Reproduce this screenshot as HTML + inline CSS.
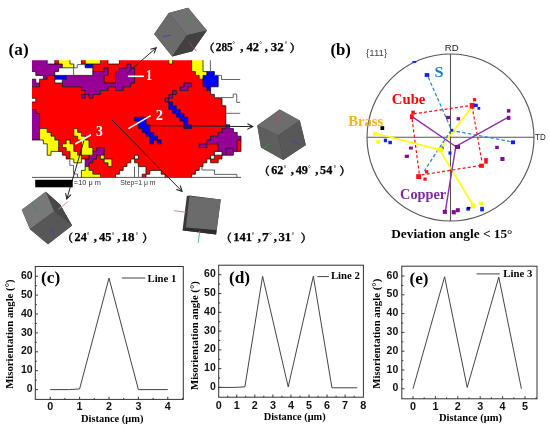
<!DOCTYPE html><html><head><meta charset="utf-8"><style>html,body{margin:0;padding:0;background:#fff;}svg{display:block}</style></head><body>
<svg width="550" height="433" viewBox="0 0 550 433">
<rect width="550" height="433" fill="#fff"/>
<path d="M54.80 60.20h3.80v3.80h-3.80zM81.40 60.20h3.80v3.80h-3.80zM100.40 60.20h7.60v3.80h-7.60zM119.40 60.20h49.40v3.80h-49.40zM172.60 60.20h19.00v3.80h-19.00zM92.80 64.00h34.20v3.80h-34.20zM130.80 64.00h60.80v3.80h-60.80zM92.80 67.80h11.40v3.80h-11.40zM108.00 67.80h11.40v3.80h-11.40zM134.60 67.80h57.00v3.80h-57.00zM108.00 71.60h7.60v3.80h-7.60zM134.60 71.60h60.80v3.80h-60.80zM47.20 75.40h7.60v3.80h-7.60zM104.20 75.40h11.40v3.80h-11.40zM134.60 75.40h64.60v3.80h-64.60zM39.60 79.20h15.20v3.80h-15.20zM104.20 79.20h11.40v3.80h-11.40zM134.60 79.20h68.40v3.80h-68.40zM39.60 83.00h22.80v3.80h-22.80zM130.80 83.00h53.20v3.80h-53.20zM191.60 83.00h11.40v3.80h-11.40zM32.00 86.80h49.40v3.80h-49.40zM108.00 86.80h7.60v3.80h-7.60zM123.20 86.80h57.00v3.80h-57.00zM187.80 86.80h19.00v3.80h-19.00zM32.00 90.60h53.20v3.80h-53.20zM100.40 90.60h72.20v3.80h-72.20zM176.40 90.60h34.20v3.80h-34.20zM32.00 94.40h49.40v3.80h-49.40zM85.20 94.40h3.80v3.80h-3.80zM92.80 94.40h76.00v3.80h-76.00zM172.60 94.40h41.80v3.80h-41.80zM35.80 98.20h129.20v3.80h-129.20zM168.80 98.20h53.20v3.80h-53.20zM32.00 102.00h136.80v3.80h-136.80zM172.60 102.00h49.40v3.80h-49.40zM32.00 105.80h136.80v3.80h-136.80zM176.40 105.80h49.40v3.80h-49.40zM35.80 109.60h136.80v3.80h-136.80zM180.20 109.60h45.60v3.80h-45.60zM39.60 113.40h136.80v3.80h-136.80zM184.00 113.40h41.80v3.80h-41.80zM39.60 117.20h95.00v3.80h-95.00zM146.00 117.20h34.20v3.80h-34.20zM187.80 117.20h38.00v3.80h-38.00zM39.60 121.00h98.80v3.80h-98.80zM146.00 121.00h38.00v3.80h-38.00zM187.80 121.00h38.00v3.80h-38.00zM39.60 124.80h98.80v3.80h-98.80zM149.80 124.80h34.20v3.80h-34.20zM191.60 124.80h34.20v3.80h-34.20zM47.20 128.60h26.60v3.80h-26.60zM77.60 128.60h64.60v3.80h-64.60zM149.80 128.60h72.20v3.80h-72.20zM51.00 132.40h22.80v3.80h-22.80zM81.40 132.40h64.60v3.80h-64.60zM153.60 132.40h64.60v3.80h-64.60zM54.80 136.20h22.80v3.80h-22.80zM85.20 136.20h64.60v3.80h-64.60zM157.40 136.20h53.20v3.80h-53.20zM58.60 140.00h7.60v3.80h-7.60zM70.00 140.00h11.40v3.80h-11.40zM89.00 140.00h60.80v3.80h-60.80zM153.60 140.00h3.80v3.80h-3.80zM161.20 140.00h45.60v3.80h-45.60zM237.20 140.00h3.80v3.80h-3.80zM58.60 143.80h3.80v3.80h-3.80zM73.80 143.80h7.60v3.80h-7.60zM89.00 143.80h110.20v3.80h-110.20zM206.80 143.80h11.40v3.80h-11.40zM237.20 143.80h3.80v3.80h-3.80zM58.60 147.60h7.60v3.80h-7.60zM73.80 147.60h7.60v3.80h-7.60zM92.80 147.60h3.80v3.80h-3.80zM104.20 147.60h114.00v3.80h-114.00zM237.20 147.60h3.80v3.80h-3.80zM62.40 151.40h7.60v3.80h-7.60zM77.60 151.40h3.80v3.80h-3.80zM104.20 151.40h110.20v3.80h-110.20zM66.20 155.20h3.80v3.80h-3.80zM81.40 155.20h7.60v3.80h-7.60zM96.60 155.20h3.80v3.80h-3.80zM104.20 155.20h30.40v3.80h-30.40zM138.40 155.20h72.20v3.80h-72.20zM214.40 155.20h7.60v3.80h-7.60zM92.80 159.00h11.40v3.80h-11.40zM111.80 159.00h19.00v3.80h-19.00zM134.60 159.00h72.20v3.80h-72.20zM210.60 159.00h7.60v3.80h-7.60zM89.00 162.80h19.00v3.80h-19.00zM111.80 162.80h15.20v3.80h-15.20zM138.40 162.80h64.60v3.80h-64.60zM89.00 166.60h34.20v3.80h-34.20zM146.00 166.60h53.20v3.80h-53.20zM92.80 170.40h26.60v3.80h-26.60zM146.00 170.40h3.80v3.80h-3.80zM161.20 170.40h34.20v3.80h-34.20zM100.40 174.20h15.20v3.80h-15.20zM142.20 174.20h3.80v3.80h-3.80zM165.00 174.20h26.60v3.80h-26.60z" fill="#ff0000"/>
<path d="M32.00 60.20h15.20v3.80h-15.20zM32.00 64.00h30.40v3.80h-30.40zM127.00 64.00h3.80v3.80h-3.80zM32.00 67.80h26.60v3.80h-26.60zM104.20 67.80h3.80v3.80h-3.80zM119.40 67.80h15.20v3.80h-15.20zM35.80 71.60h19.00v3.80h-19.00zM92.80 71.60h15.20v3.80h-15.20zM115.60 71.60h19.00v3.80h-19.00zM43.40 75.40h3.80v3.80h-3.80zM66.20 75.40h38.00v3.80h-38.00zM115.60 75.40h19.00v3.80h-19.00zM32.00 79.20h3.80v3.80h-3.80zM62.40 79.20h41.80v3.80h-41.80zM115.60 79.20h19.00v3.80h-19.00zM32.00 83.00h7.60v3.80h-7.60zM62.40 83.00h68.40v3.80h-68.40zM184.00 83.00h7.60v3.80h-7.60zM81.40 86.80h26.60v3.80h-26.60zM115.60 86.80h7.60v3.80h-7.60zM180.20 86.80h7.60v3.80h-7.60zM85.20 90.60h15.20v3.80h-15.20zM172.60 90.60h3.80v3.80h-3.80zM81.40 94.40h3.80v3.80h-3.80zM89.00 94.40h3.80v3.80h-3.80zM168.80 94.40h3.80v3.80h-3.80zM165.00 98.20h3.80v3.80h-3.80zM32.00 109.60h3.80v3.80h-3.80zM32.00 113.40h7.60v3.80h-7.60zM32.00 117.20h7.60v3.80h-7.60zM32.00 121.00h7.60v3.80h-7.60zM32.00 124.80h7.60v3.80h-7.60zM225.80 124.80h3.80v3.80h-3.80zM32.00 128.60h7.60v3.80h-7.60zM222.00 128.60h11.40v3.80h-11.40zM32.00 132.40h7.60v3.80h-7.60zM218.20 132.40h19.00v3.80h-19.00zM32.00 136.20h7.60v3.80h-7.60zM210.60 136.20h30.40v3.80h-30.40zM206.80 140.00h30.40v3.80h-30.40zM199.20 143.80h7.60v3.80h-7.60zM218.20 143.80h19.00v3.80h-19.00zM96.60 147.60h7.60v3.80h-7.60zM218.20 147.60h19.00v3.80h-19.00zM92.80 151.40h11.40v3.80h-11.40zM222.00 151.40h11.40v3.80h-11.40zM89.00 155.20h7.60v3.80h-7.60zM85.20 159.00h7.60v3.80h-7.60zM85.20 162.80h3.80v3.80h-3.80z" fill="#960096"/>
<path d="M58.60 60.20h11.40v3.80h-11.40zM85.20 60.20h15.20v3.80h-15.20zM168.80 60.20h3.80v3.80h-3.80zM191.60 60.20h11.40v3.80h-11.40zM62.40 64.00h11.40v3.80h-11.40zM191.60 64.00h11.40v3.80h-11.40zM191.60 67.80h11.40v3.80h-11.40zM195.40 71.60h11.40v3.80h-11.40zM199.20 75.40h3.80v3.80h-3.80zM39.60 128.60h7.60v3.80h-7.60zM73.80 128.60h3.80v3.80h-3.80zM39.60 132.40h11.40v3.80h-11.40zM73.80 132.40h7.60v3.80h-7.60zM39.60 136.20h15.20v3.80h-15.20zM77.60 136.20h7.60v3.80h-7.60zM43.40 140.00h15.20v3.80h-15.20zM66.20 140.00h3.80v3.80h-3.80zM81.40 140.00h7.60v3.80h-7.60zM47.20 143.80h11.40v3.80h-11.40zM62.40 143.80h11.40v3.80h-11.40zM81.40 143.80h7.60v3.80h-7.60zM47.20 147.60h11.40v3.80h-11.40zM66.20 147.60h7.60v3.80h-7.60zM81.40 147.60h11.40v3.80h-11.40zM47.20 151.40h3.80v3.80h-3.80zM70.00 151.40h7.60v3.80h-7.60zM81.40 151.40h11.40v3.80h-11.40zM70.00 155.20h11.40v3.80h-11.40zM100.40 155.20h3.80v3.80h-3.80zM73.80 159.00h7.60v3.80h-7.60zM104.20 159.00h7.60v3.80h-7.60zM108.00 162.80h3.80v3.80h-3.80zM85.20 166.60h3.80v3.80h-3.80zM81.40 170.40h11.40v3.80h-11.40zM81.40 174.20h19.00v3.80h-19.00z" fill="#ffff00"/>
<path d="M85.20 64.00h7.60v3.80h-7.60zM206.80 71.60h7.60v3.80h-7.60zM54.80 75.40h11.40v3.80h-11.40zM203.00 75.40h15.20v3.80h-15.20zM203.00 79.20h15.20v3.80h-15.20zM203.00 83.00h15.20v3.80h-15.20zM206.80 86.80h3.80v3.80h-3.80zM168.80 102.00h3.80v3.80h-3.80zM168.80 105.80h7.60v3.80h-7.60zM172.60 109.60h7.60v3.80h-7.60zM176.40 113.40h7.60v3.80h-7.60zM134.60 117.20h11.40v3.80h-11.40zM180.20 117.20h7.60v3.80h-7.60zM138.40 121.00h7.60v3.80h-7.60zM184.00 121.00h3.80v3.80h-3.80zM138.40 124.80h11.40v3.80h-11.40zM184.00 124.80h7.60v3.80h-7.60zM142.20 128.60h7.60v3.80h-7.60zM146.00 132.40h7.60v3.80h-7.60zM149.80 136.20h7.60v3.80h-7.60zM149.80 140.00h3.80v3.80h-3.80zM157.40 140.00h3.80v3.80h-3.80z" fill="#0000ff"/>
<path d="M47.20 64.00H62.40M70.00 64.00H73.80M81.40 64.00H100.40M108.00 64.00H119.40M127.00 64.00H130.80M168.80 64.00H172.60M58.60 67.80H73.80M85.20 67.80H92.80M104.20 67.80H108.00M119.40 67.80H127.00M130.80 67.80H134.60M32.00 71.60H35.80M54.80 71.60H58.60M92.80 71.60H104.20M115.60 71.60H119.40M191.60 71.60H195.40M203.00 71.60H214.40M35.80 75.40H43.40M47.20 75.40H92.80M104.20 75.40H108.00M195.40 75.40H199.20M203.00 75.40H206.80M214.40 75.40H218.20M32.00 79.20H35.80M39.60 79.20H47.20M54.80 79.20H66.20M199.20 79.20H203.00M35.80 83.00H39.60M54.80 83.00H62.40M104.20 83.00H115.60M130.80 83.00H134.60M184.00 83.00H191.60M32.00 86.80H39.60M62.40 86.80H81.40M108.00 86.80H115.60M123.20 86.80H130.80M180.20 86.80H184.00M187.80 86.80H191.60M203.00 86.80H206.80M210.60 86.80H218.20M81.40 90.60H85.20M100.40 90.60H108.00M115.60 90.60H123.20M172.60 90.60H176.40M180.20 90.60H187.80M206.80 90.60H210.60M81.40 94.40H89.00M92.80 94.40H100.40M168.80 94.40H176.40M210.60 94.40H214.40M32.00 98.20H35.80M81.40 98.20H85.20M89.00 98.20H92.80M165.00 98.20H172.60M214.40 98.20H222.00M32.00 102.00H35.80M165.00 102.00H172.60M172.60 105.80H176.40M222.00 105.80H225.80M32.00 109.60H35.80M168.80 109.60H172.60M176.40 109.60H180.20M35.80 113.40H39.60M172.60 113.40H176.40M180.20 113.40H184.00M134.60 117.20H146.00M176.40 117.20H180.20M184.00 117.20H187.80M134.60 121.00H138.40M180.20 121.00H184.00M146.00 124.80H149.80M187.80 124.80H191.60M225.80 124.80H229.60M39.60 128.60H47.20M73.80 128.60H77.60M138.40 128.60H142.20M184.00 128.60H191.60M222.00 128.60H225.80M229.60 128.60H233.40M47.20 132.40H51.00M77.60 132.40H81.40M142.20 132.40H146.00M149.80 132.40H153.60M218.20 132.40H222.00M233.40 132.40H237.20M51.00 136.20H54.80M73.80 136.20H77.60M81.40 136.20H85.20M146.00 136.20H149.80M153.60 136.20H157.40M210.60 136.20H218.20M237.20 136.20H241.00M32.00 140.00H43.40M54.80 140.00H58.60M66.20 140.00H70.00M77.60 140.00H81.40M85.20 140.00H89.00M153.60 140.00H161.20M206.80 140.00H210.60M237.20 140.00H241.00M43.40 143.80H47.20M62.40 143.80H66.20M70.00 143.80H73.80M149.80 143.80H153.60M157.40 143.80H161.20M199.20 143.80H218.20M62.40 147.60H66.20M89.00 147.60H92.80M96.60 147.60H104.20M199.20 147.60H206.80M51.00 151.40H62.40M66.20 151.40H70.00M73.80 151.40H77.60M92.80 151.40H96.60M214.40 151.40H222.00M233.40 151.40H241.00M47.20 155.20H51.00M62.40 155.20H66.20M77.60 155.20H92.80M96.60 155.20H104.20M134.60 155.20H138.40M210.60 155.20H233.40M66.20 159.00H73.80M81.40 159.00H89.00M92.80 159.00H96.60M100.40 159.00H111.80M130.80 159.00H138.40M206.80 159.00H214.40M218.20 159.00H222.00M73.80 162.80H81.40M89.00 162.80H92.80M104.20 162.80H108.00M127.00 162.80H130.80M134.60 162.80H138.40M203.00 162.80H206.80M210.60 162.80H218.20M85.20 166.60H89.00M108.00 166.60H111.80M123.20 166.60H127.00M138.40 166.60H146.00M199.20 166.60H203.00M81.40 170.40H85.20M89.00 170.40H92.80M119.40 170.40H123.20M149.80 170.40H161.20M195.40 170.40H199.20M92.80 174.20H100.40M115.60 174.20H119.40M142.20 174.20H149.80M161.20 174.20H165.00M191.60 174.20H195.40M35.80 71.60V75.40M35.80 79.20V83.00M35.80 98.20V102.00M35.80 109.60V113.40M39.60 79.20V86.80M39.60 113.40V140.00M43.40 75.40V79.20M43.40 140.00V143.80M47.20 60.20V64.00M47.20 75.40V79.20M47.20 128.60V132.40M47.20 143.80V155.20M51.00 132.40V136.20M51.00 151.40V155.20M54.80 60.20V64.00M54.80 71.60V83.00M54.80 136.20V140.00M58.60 60.20V64.00M58.60 67.80V71.60M58.60 140.00V151.40M62.40 64.00V67.80M62.40 79.20V86.80M62.40 143.80V147.60M62.40 151.40V155.20M66.20 75.40V79.20M66.20 140.00V143.80M66.20 147.60V151.40M66.20 155.20V159.00M70.00 60.20V64.00M70.00 140.00V143.80M70.00 151.40V159.00M73.80 64.00V67.80M73.80 128.60V136.20M73.80 143.80V151.40M73.80 159.00V162.80M77.60 128.60V132.40M77.60 136.20V140.00M77.60 151.40V155.20M81.40 60.20V64.00M81.40 86.80V90.60M81.40 94.40V98.20M81.40 132.40V136.20M81.40 140.00V162.80M81.40 170.40V178.00M85.20 60.20V67.80M85.20 90.60V98.20M85.20 136.20V140.00M85.20 159.00V170.40M89.00 94.40V98.20M89.00 140.00V147.60M89.00 155.20V159.00M89.00 162.80V170.40M92.80 64.00V75.40M92.80 94.40V98.20M92.80 147.60V155.20M92.80 159.00V162.80M92.80 170.40V174.20M96.60 147.60V151.40M96.60 155.20V159.00M100.40 60.20V64.00M100.40 90.60V94.40M100.40 155.20V159.00M100.40 174.20V178.00M104.20 67.80V71.60M104.20 75.40V83.00M104.20 147.60V162.80M108.00 60.20V64.00M108.00 67.80V75.40M108.00 86.80V90.60M108.00 162.80V166.60M111.80 159.00V166.60M115.60 71.60V83.00M115.60 86.80V90.60M115.60 174.20V178.00M119.40 60.20V64.00M119.40 67.80V71.60M119.40 170.40V174.20M123.20 86.80V90.60M123.20 166.60V170.40M127.00 64.00V67.80M127.00 162.80V166.60M130.80 64.00V67.80M130.80 83.00V86.80M130.80 159.00V162.80M134.60 67.80V83.00M134.60 117.20V121.00M134.60 155.20V162.80M138.40 121.00V128.60M138.40 155.20V159.00M138.40 162.80V166.60M142.20 128.60V132.40M142.20 174.20V178.00M146.00 117.20V124.80M146.00 132.40V136.20M146.00 166.60V178.00M149.80 124.80V132.40M149.80 136.20V143.80M149.80 170.40V174.20M153.60 132.40V136.20M153.60 140.00V143.80M157.40 136.20V143.80M161.20 140.00V143.80M161.20 170.40V174.20M165.00 98.20V102.00M165.00 174.20V178.00M168.80 60.20V64.00M168.80 94.40V109.60M172.60 60.20V64.00M172.60 90.60V98.20M172.60 102.00V105.80M172.60 109.60V113.40M176.40 90.60V94.40M176.40 105.80V109.60M176.40 113.40V117.20M180.20 86.80V90.60M180.20 109.60V113.40M180.20 117.20V121.00M184.00 83.00V86.80M184.00 113.40V117.20M184.00 121.00V128.60M187.80 86.80V90.60M187.80 117.20V124.80M191.60 60.20V71.60M191.60 83.00V86.80M191.60 124.80V128.60M191.60 174.20V178.00M195.40 71.60V75.40M195.40 170.40V174.20M199.20 75.40V79.20M199.20 143.80V147.60M199.20 166.60V170.40M203.00 60.20V71.60M203.00 75.40V86.80M203.00 162.80V166.60M206.80 71.60V75.40M206.80 86.80V90.60M206.80 140.00V147.60M206.80 159.00V162.80M210.60 86.80V94.40M210.60 136.20V140.00M210.60 155.20V162.80M214.40 71.60V75.40M214.40 94.40V98.20M214.40 151.40V159.00M218.20 75.40V86.80M218.20 132.40V136.20M218.20 143.80V151.40M218.20 159.00V162.80M222.00 98.20V105.80M222.00 128.60V132.40M222.00 151.40V159.00M225.80 105.80V128.60M229.60 124.80V128.60M233.40 128.60V132.40M233.40 151.40V155.20M237.20 132.40V136.20M237.20 140.00V151.40M241.00 136.20V151.40" stroke="#000" stroke-opacity="0.85" stroke-width="0.85" fill="none"/>
<path d="M32 177.4H241" stroke="#555" stroke-width="1" fill="none"/>
<path d="M210.4 60.2V71.9M213.9 75.4H221.5V79.5H240.2M213.9 97.6H233.2V94.1H236.7V102.4H240.2M225.6 113.3H240.2M202 166.7V170H214.5V174.4H236.9V177.4M134.5 166.4V177.4M138.6 166.4V177.4M69.8 159.5V165.3H73.5V174H77.5V177.4M73.6 64.2V75.5M73.6 67.8H77.3V64.6H85.5" stroke="#555" stroke-width="0.9" fill="none"/>
<path d="M226 154.2V148.2H233.1V151" stroke="#222" stroke-width="0.8" fill="none"/>
<line x1="127.9" y1="76.3" x2="143.9" y2="76.3" stroke="#fff" stroke-width="1.6"/>
<text x="146.10" y="79.70" font-family="'Liberation Serif','Noto Serif CJK SC',serif" font-size="13.8" font-weight="bold" fill="#fff" textLength="6.18" lengthAdjust="spacingAndGlyphs" >1</text>
<line x1="128.4" y1="128.6" x2="150.7" y2="115.6" stroke="#fff" stroke-width="1.6"/>
<text x="155.88" y="119.80" font-family="'Liberation Serif','Noto Serif CJK SC',serif" font-size="14" font-weight="bold" fill="#fff" textLength="7.23" lengthAdjust="spacingAndGlyphs" >2</text>
<line x1="75.2" y1="144" x2="91" y2="134.8" stroke="#fff" stroke-width="1.6"/>
<text x="96.03" y="136.00" font-family="'Liberation Serif','Noto Serif CJK SC',serif" font-size="14.5" font-weight="bold" fill="#fff" textLength="6.84" lengthAdjust="spacingAndGlyphs" >3</text>
<line x1="126.8" y1="73.5" x2="156.2" y2="47.8" stroke="#222" stroke-width="1"/><path d="M150.36 49.17L156.20 47.80L154.07 53.41" stroke="#222" stroke-width="1.1" fill="none"/>
<line x1="143" y1="125.6" x2="252.7" y2="126.6" stroke="#222" stroke-width="1"/><path d="M247.43 123.73L252.70 126.60L247.38 129.37" stroke="#222" stroke-width="1.1" fill="none"/>
<line x1="84" y1="140.5" x2="66.8" y2="199" stroke="#222" stroke-width="1"/><path d="M71.00 194.71L66.80 199.00L65.59 193.12" stroke="#222" stroke-width="1.1" fill="none"/>
<line x1="111.8" y1="119.8" x2="182" y2="191.3" stroke="#222" stroke-width="1"/><path d="M180.30 185.55L182.00 191.30L176.28 189.49" stroke="#222" stroke-width="1.1" fill="none"/>
<rect x="35.2" y="179.8" width="37.5" height="7.5" fill="#000"/>
<text x="73.87" y="185.40" font-family="'Liberation Sans',sans-serif" font-size="8" font-weight="normal" fill="#333" textLength="26.93" lengthAdjust="spacingAndGlyphs" >=10 μ m</text>
<text x="120.27" y="185.40" font-family="'Liberation Sans',sans-serif" font-size="8" font-weight="normal" fill="#333" textLength="35.29" lengthAdjust="spacingAndGlyphs" >Step=1 μ m</text>
<polygon points="168.7,13.1 188.1,7.8 206.9,30.4 192.3,51.2 172.2,56.4 154.2,33.9" fill="#3c3c3c" />
<polygon points="168.7,13.1 188.1,7.8 206.9,30.4 186.8,35.3" fill="#717171" />
<polygon points="168.7,13.1 186.8,35.3 172.2,56.4 154.2,33.9" fill="#6b6b6b" />
<polygon points="186.8,35.3 206.9,30.4 192.3,51.2 172.2,56.4" fill="#414141" />
<line x1="188.1" y1="21.4" x2="193" y2="14.2" stroke="#2a9a3a" stroke-width="0.9"/>
<line x1="163.2" y1="36.7" x2="170.8" y2="35" stroke="#4040c0" stroke-width="0.9"/>
<line x1="188.8" y1="42.2" x2="196.5" y2="51.2" stroke="#c04050" stroke-width="0.9"/>
<polygon points="279.7,109.5 299.8,120.4 305.8,144.9 283.2,160.1 261.0,147.6 257.3,125.5" fill="#3c3c3c" />
<polygon points="279.7,109.5 299.8,120.4 278.3,135.2 257.3,125.5" fill="#6d6d6d" />
<polygon points="257.3,125.5 278.3,135.2 283.2,160.1 261.0,147.6" fill="#5e5e5e" />
<polygon points="278.3,135.2 299.8,120.4 305.8,144.9 283.2,160.1" fill="#585858" />
<line x1="277" y1="113.5" x2="278.8" y2="122.7" stroke="#c05060" stroke-width="0.9"/>
<line x1="263.1" y1="148.6" x2="270.5" y2="143.1" stroke="#20a040" stroke-width="0.9"/>
<line x1="292.7" y1="140.3" x2="299.1" y2="144.5" stroke="#4040c0" stroke-width="0.9"/>
<polygon points="45.8,191.8 60.1,204.5 72.1,225.6 48.0,244.3 30.0,229.3 21.8,209.8" fill="#3c3c3c" />
<polygon points="45.8,191.8 54.4,211.3 30.0,229.3 21.8,209.8" fill="#787878" />
<polygon points="45.8,191.8 60.1,204.5 72.1,225.6 54.4,211.3" fill="#484848" />
<polygon points="54.4,211.3 72.1,225.6 48.0,244.3 30.0,229.3" fill="#575757" />
<line x1="32.3" y1="205.3" x2="38.3" y2="210.5" stroke="#20a040" stroke-width="0.9"/>
<line x1="58.6" y1="209" x2="68.3" y2="201.5" stroke="#e08090" stroke-width="0.9"/>
<line x1="51.1" y1="227.8" x2="54.1" y2="235.3" stroke="#4040c0" stroke-width="0.9"/>
<polygon points="186.8,196.0 189.4,195.5 220.8,199.4 216.2,234.4 182.5,230.4" fill="#3a3a3a" />
<polygon points="182.5,230.2 185.9,227.6 216.5,230.2 216.0,234.5" fill="#2e2e2e" />
<polygon points="189.4,196.3 220.8,199.6 216.5,230.0 185.9,227.4" fill="#6b6b6b" />
<circle cx="203" cy="213" r="0.6" fill="#7070a0"/>
<line x1="173.9" y1="210.7" x2="186" y2="212.3" stroke="#e07080" stroke-width="0.9"/>
<line x1="199.8" y1="231" x2="198.1" y2="243" stroke="#30c060" stroke-width="0.9"/>
<text x="8.61" y="54.60" font-family="'Liberation Serif','Noto Serif CJK SC',serif" font-size="16.3" font-weight="bold" fill="#000" textLength="20.07" lengthAdjust="spacingAndGlyphs" >(a)</text>
<text x="330.43" y="54.70" font-family="'Liberation Serif','Noto Serif CJK SC',serif" font-size="16.3" font-weight="bold" fill="#000" textLength="20.55" lengthAdjust="spacingAndGlyphs" >(b)</text>
<text x="203.50" y="51.60" font-family="'Noto Serif CJK SC',serif" font-size="11" font-weight="bold" fill="#000" stroke="#000" stroke-width="0.35">（</text>
<text x="215.83" y="50.70" font-family="'Liberation Serif','Noto Serif CJK SC',serif" font-size="12" font-weight="bold" fill="#000" textLength="16.94" lengthAdjust="spacingAndGlyphs" stroke="#000" stroke-width="0.25">285</text>
<text x="232.20" y="47.40" font-family="'Liberation Sans',sans-serif" font-size="7" font-weight="normal" fill="#000" >°</text>
<text x="240.25" y="50.70" font-family="'Liberation Serif','Noto Serif CJK SC',serif" font-size="12.5" font-weight="bold" fill="#000" stroke="#000" stroke-width="0.3">,</text>
<text x="246.54" y="50.70" font-family="'Liberation Serif','Noto Serif CJK SC',serif" font-size="12" font-weight="bold" fill="#000" textLength="12.59" lengthAdjust="spacingAndGlyphs" stroke="#000" stroke-width="0.25">42</text>
<text x="259.20" y="47.40" font-family="'Liberation Sans',sans-serif" font-size="7" font-weight="normal" fill="#000" >°</text>
<text x="264.75" y="50.70" font-family="'Liberation Serif','Noto Serif CJK SC',serif" font-size="12.5" font-weight="bold" fill="#000" stroke="#000" stroke-width="0.3">,</text>
<text x="270.86" y="50.70" font-family="'Liberation Serif','Noto Serif CJK SC',serif" font-size="12" font-weight="bold" fill="#000" textLength="12.87" lengthAdjust="spacingAndGlyphs" stroke="#000" stroke-width="0.25">32</text>
<text x="284.40" y="47.40" font-family="'Liberation Sans',sans-serif" font-size="7" font-weight="normal" fill="#000" >°</text>
<text x="289.75" y="51.60" font-family="'Noto Serif CJK SC',serif" font-size="11" font-weight="bold" fill="#000" stroke="#000" stroke-width="0.35">）</text>
<text x="258.70" y="175.30" font-family="'Noto Serif CJK SC',serif" font-size="11" font-weight="bold" fill="#000" stroke="#000" stroke-width="0.35">（</text>
<text x="271.30" y="174.40" font-family="'Liberation Serif','Noto Serif CJK SC',serif" font-size="12" font-weight="bold" fill="#000" textLength="12.11" lengthAdjust="spacingAndGlyphs" stroke="#000" stroke-width="0.25">62</text>
<text x="283.50" y="171.10" font-family="'Liberation Sans',sans-serif" font-size="7" font-weight="normal" fill="#000" >°</text>
<text x="290.85" y="174.40" font-family="'Liberation Serif','Noto Serif CJK SC',serif" font-size="12.5" font-weight="bold" fill="#000" stroke="#000" stroke-width="0.3">,</text>
<text x="295.74" y="174.40" font-family="'Liberation Serif','Noto Serif CJK SC',serif" font-size="12" font-weight="bold" fill="#000" textLength="12.27" lengthAdjust="spacingAndGlyphs" stroke="#000" stroke-width="0.25">49</text>
<text x="308.10" y="171.10" font-family="'Liberation Sans',sans-serif" font-size="7" font-weight="normal" fill="#000" >°</text>
<text x="315.35" y="174.40" font-family="'Liberation Serif','Noto Serif CJK SC',serif" font-size="12.5" font-weight="bold" fill="#000" stroke="#000" stroke-width="0.3">,</text>
<text x="320.09" y="174.40" font-family="'Liberation Serif','Noto Serif CJK SC',serif" font-size="12" font-weight="bold" fill="#000" textLength="12.16" lengthAdjust="spacingAndGlyphs" stroke="#000" stroke-width="0.25">54</text>
<text x="333.40" y="171.10" font-family="'Liberation Sans',sans-serif" font-size="7" font-weight="normal" fill="#000" >°</text>
<text x="339.45" y="175.30" font-family="'Noto Serif CJK SC',serif" font-size="11" font-weight="bold" fill="#000" stroke="#000" stroke-width="0.35">）</text>
<text x="61.90" y="241.70" font-family="'Noto Serif CJK SC',serif" font-size="11" font-weight="bold" fill="#000" stroke="#000" stroke-width="0.35">（</text>
<text x="74.59" y="240.80" font-family="'Liberation Serif','Noto Serif CJK SC',serif" font-size="12" font-weight="bold" fill="#000" textLength="12.16" lengthAdjust="spacingAndGlyphs" stroke="#000" stroke-width="0.25">24</text>
<text x="86.70" y="237.50" font-family="'Liberation Sans',sans-serif" font-size="7" font-weight="normal" fill="#000" >°</text>
<text x="93.65" y="240.80" font-family="'Liberation Serif','Noto Serif CJK SC',serif" font-size="12.5" font-weight="bold" fill="#000" stroke="#000" stroke-width="0.3">,</text>
<text x="99.04" y="240.80" font-family="'Liberation Serif','Noto Serif CJK SC',serif" font-size="12" font-weight="bold" fill="#000" textLength="12.59" lengthAdjust="spacingAndGlyphs" stroke="#000" stroke-width="0.25">45</text>
<text x="111.70" y="237.50" font-family="'Liberation Sans',sans-serif" font-size="7" font-weight="normal" fill="#000" >°</text>
<text x="117.35" y="240.80" font-family="'Liberation Serif','Noto Serif CJK SC',serif" font-size="12.5" font-weight="bold" fill="#000" stroke="#000" stroke-width="0.3">,</text>
<text x="121.51" y="240.80" font-family="'Liberation Serif','Noto Serif CJK SC',serif" font-size="12" font-weight="bold" fill="#000" textLength="13.03" lengthAdjust="spacingAndGlyphs" stroke="#000" stroke-width="0.25">18</text>
<text x="135.40" y="237.50" font-family="'Liberation Sans',sans-serif" font-size="7" font-weight="normal" fill="#000" >°</text>
<text x="142.25" y="241.70" font-family="'Noto Serif CJK SC',serif" font-size="11" font-weight="bold" fill="#000" stroke="#000" stroke-width="0.35">）</text>
<text x="220.70" y="241.70" font-family="'Noto Serif CJK SC',serif" font-size="11" font-weight="bold" fill="#000" stroke="#000" stroke-width="0.35">（</text>
<text x="233.26" y="240.80" font-family="'Liberation Serif','Noto Serif CJK SC',serif" font-size="12" font-weight="bold" fill="#000" textLength="18.76" lengthAdjust="spacingAndGlyphs" stroke="#000" stroke-width="0.25">141</text>
<text x="251.60" y="237.50" font-family="'Liberation Sans',sans-serif" font-size="7" font-weight="normal" fill="#000" >°</text>
<text x="257.75" y="240.80" font-family="'Liberation Serif','Noto Serif CJK SC',serif" font-size="12.5" font-weight="bold" fill="#000" stroke="#000" stroke-width="0.3">,</text>
<text x="262.04" y="240.80" font-family="'Liberation Serif','Noto Serif CJK SC',serif" font-size="12" font-weight="bold" fill="#000" textLength="6.84" lengthAdjust="spacingAndGlyphs" stroke="#000" stroke-width="0.25">7</text>
<text x="268.90" y="237.50" font-family="'Liberation Sans',sans-serif" font-size="7" font-weight="normal" fill="#000" >°</text>
<text x="273.75" y="240.80" font-family="'Liberation Serif','Noto Serif CJK SC',serif" font-size="12.5" font-weight="bold" fill="#000" stroke="#000" stroke-width="0.3">,</text>
<text x="278.47" y="240.80" font-family="'Liberation Serif','Noto Serif CJK SC',serif" font-size="12" font-weight="bold" fill="#000" textLength="12.76" lengthAdjust="spacingAndGlyphs" stroke="#000" stroke-width="0.25">31</text>
<text x="291.40" y="237.50" font-family="'Liberation Sans',sans-serif" font-size="7" font-weight="normal" fill="#000" >°</text>
<text x="300.65" y="241.70" font-family="'Noto Serif CJK SC',serif" font-size="11" font-weight="bold" fill="#000" stroke="#000" stroke-width="0.35">）</text>
<circle cx="450.5" cy="137.5" r="83.5" fill="none" stroke="#555" stroke-width="1.1"/>
<path d="M450.5 54.0V221.0M367.0 137.3H534.0" stroke="#555" stroke-width="1.1" fill="none"/>
<text x="444.84" y="51.40" font-family="'Liberation Sans',sans-serif" font-size="9.5" font-weight="normal" fill="#222" textLength="13.95" lengthAdjust="spacingAndGlyphs" >RD</text>
<text x="535.09" y="140.00" font-family="'Liberation Sans',sans-serif" font-size="9.5" font-weight="normal" fill="#222" textLength="10.67" lengthAdjust="spacingAndGlyphs" >TD</text>
<text x="366.05" y="56.40" font-family="'Liberation Sans',sans-serif" font-size="9.5" font-weight="normal" fill="#444" textLength="21.20" lengthAdjust="spacingAndGlyphs" >{111}</text>
<path d="M413.7 113.9L472 105.4M472.1 106.2L482 162M481 165.4L421 175M412.1 119.1L419.4 175" stroke="#ff1010" stroke-width="1.2" stroke-dasharray="3 2.2" fill="none"/>
<path d="M428.3 77.3L451 128.8M451 130.4L511.7 141.7M451 130.4L424.2 171" stroke="#2080e0" stroke-width="1.2" stroke-dasharray="3.5 2.2" fill="none"/>
<path d="M375 133.2L439.6 149.8M472.1 106.2L439.6 149.8L473 205" stroke="#ffff00" stroke-width="1.5" fill="none"/>
<path d="M412.1 116.7L455.8 146.5M507 117.8L455.8 146.5L445.3 211.4" stroke="#8a30b0" stroke-width="1.4" fill="none"/>
<rect x="411.3" y="110.7" width="3.6" height="3.5" fill="#ff1010"/>
<rect x="410" y="114.2" width="3.7" height="4.9" fill="#ff1010"/>
<rect x="472.9" y="98.1" width="3.3" height="3.2" fill="#ff1010"/>
<rect x="469.7" y="102.9" width="4.8" height="5.7" fill="#ff1010"/>
<rect x="484.2" y="158.1" width="3.6" height="5.6" fill="#ff1010"/>
<rect x="479.1" y="163.7" width="4.8" height="4.1" fill="#ff1010"/>
<rect x="416.2" y="174.2" width="4.8" height="4.9" fill="#ff1010"/>
<rect x="425" y="170.2" width="3.3" height="3.2" fill="#ff1010"/>
<rect x="423.4" y="177.5" width="3.3" height="3.2" fill="#ff1010"/>
<rect x="424.7" y="73.1" width="4.6" height="3.8" fill="#0a20ff"/>
<rect x="412.4" y="61.1" width="3.8" height="1.8" fill="#0a20ff"/>
<rect x="451" y="128.8" width="2.3" height="2.9" fill="#0a20ff"/>
<rect x="473.7" y="103.7" width="4.1" height="3.3" fill="#0a20ff"/>
<rect x="477.5" y="107" width="2.7" height="2.7" fill="#0a20ff"/>
<rect x="510.9" y="140.4" width="4.1" height="3.8" fill="#0a20ff"/>
<rect x="441.2" y="146.6" width="2.4" height="2.9" fill="#0a20ff"/>
<rect x="448.5" y="151.4" width="2.9" height="3.3" fill="#0a20ff"/>
<rect x="383.8" y="138.7" width="3.2" height="3.5" fill="#0a20ff"/>
<rect x="388.4" y="140.8" width="3.5" height="3.4" fill="#0a20ff"/>
<rect x="466.3" y="207.4" width="3.7" height="3.2" fill="#0a20ff"/>
<rect x="480.2" y="206.9" width="3.7" height="4.5" fill="#0a20ff"/>
<rect x="373.2" y="132.2" width="3.4" height="3.7" fill="#ffff00"/>
<rect x="376.4" y="140.1" width="3.7" height="3.5" fill="#ffff00"/>
<rect x="437.2" y="147.4" width="5.6" height="4.8" fill="#ffff00"/>
<rect x="471" y="203.3" width="4.4" height="4.9" fill="#ffff00"/>
<rect x="479.1" y="201.7" width="3.9" height="3.3" fill="#ffff00"/>
<rect x="380.5" y="126.2" width="3.7" height="3.8" fill="#000"/>
<rect x="467" y="206.9" width="3.5" height="1.7" fill="#000"/>
<rect x="446" y="115.9" width="4.0" height="3.2" fill="#7e0e8e"/>
<rect x="456.6" y="117.2" width="3.5" height="3.2" fill="#7e0e8e"/>
<rect x="455" y="145" width="5.0" height="4.0" fill="#7e0e8e"/>
<rect x="408.9" y="146.6" width="4.0" height="2.9" fill="#7e0e8e"/>
<rect x="404.8" y="154.7" width="4.1" height="3.2" fill="#7e0e8e"/>
<rect x="506.9" y="109.1" width="3.5" height="3.5" fill="#7e0e8e"/>
<rect x="506.9" y="115.9" width="3.5" height="4.0" fill="#7e0e8e"/>
<rect x="495.2" y="145.8" width="3.6" height="3.2" fill="#7e0e8e"/>
<rect x="500.4" y="157" width="4.1" height="4.0" fill="#7e0e8e"/>
<rect x="442.8" y="209.8" width="4.1" height="4.1" fill="#7e0e8e"/>
<rect x="451.7" y="210.1" width="4.1" height="4.2" fill="#7e0e8e"/>
<rect x="455.8" y="208.2" width="4.0" height="4.0" fill="#7e0e8e"/>
<text x="434.49" y="77.05" font-family="'Liberation Serif','Noto Serif CJK SC',serif" font-size="15" font-weight="bold" fill="#1a78d0" textLength="9.06" lengthAdjust="spacingAndGlyphs" >S</text>
<text x="391.84" y="104.00" font-family="'Liberation Serif','Noto Serif CJK SC',serif" font-size="14.5" font-weight="bold" fill="#ff0000" textLength="33.56" lengthAdjust="spacingAndGlyphs" >Cube</text>
<text x="348.15" y="126.30" font-family="'Liberation Serif','Noto Serif CJK SC',serif" font-size="14.5" font-weight="bold" fill="#f5b41a" textLength="35.17" lengthAdjust="spacingAndGlyphs" >Brass</text>
<text x="400.06" y="199.30" font-family="'Liberation Serif','Noto Serif CJK SC',serif" font-size="14.5" font-weight="bold" fill="#7a2aa0" textLength="46.17" lengthAdjust="spacingAndGlyphs" >Copper</text>
<text x="391.25" y="237.90" font-family="'Liberation Serif','Noto Serif CJK SC',serif" font-size="13.2" font-weight="bold" fill="#000" textLength="121.18" lengthAdjust="spacingAndGlyphs" >Deviation angle &lt; 15°</text>
<rect x="35.3" y="266.5" width="148.00" height="132.90" fill="none" stroke="#333" stroke-width="1"/>
<path d="M35.3 389.60h2.6M35.3 380.15h1.5M35.3 370.70h2.6M35.3 361.25h1.5M35.3 351.80h2.6M35.3 342.35h1.5M35.3 332.90h2.6M35.3 323.45h1.5M35.3 314.00h2.6M35.3 304.55h1.5M35.3 295.10h2.6M35.3 285.65h1.5M35.3 276.20h2.6M50.20 399.4v-2.6M64.90 399.4v-1.5M79.60 399.4v-2.6M94.30 399.4v-1.5M109.00 399.4v-2.6M123.70 399.4v-1.5M138.40 399.4v-2.6M153.10 399.4v-1.5M167.80 399.4v-2.6M182.50 399.4v-1.5" stroke="#333" stroke-width="1" fill="none"/>
<text transform="translate(32.6,392.20) scale(1.05,1)" font-family="'Liberation Sans',sans-serif" font-size="10" font-weight="bold" fill="#111" text-anchor="end">0</text>
<text transform="translate(32.6,373.30) scale(1.05,1)" font-family="'Liberation Sans',sans-serif" font-size="10" font-weight="bold" fill="#111" text-anchor="end">10</text>
<text transform="translate(32.6,354.40) scale(1.05,1)" font-family="'Liberation Sans',sans-serif" font-size="10" font-weight="bold" fill="#111" text-anchor="end">20</text>
<text transform="translate(32.6,335.50) scale(1.05,1)" font-family="'Liberation Sans',sans-serif" font-size="10" font-weight="bold" fill="#111" text-anchor="end">30</text>
<text transform="translate(32.6,316.60) scale(1.05,1)" font-family="'Liberation Sans',sans-serif" font-size="10" font-weight="bold" fill="#111" text-anchor="end">40</text>
<text transform="translate(32.6,297.70) scale(1.05,1)" font-family="'Liberation Sans',sans-serif" font-size="10" font-weight="bold" fill="#111" text-anchor="end">50</text>
<text transform="translate(32.6,278.80) scale(1.05,1)" font-family="'Liberation Sans',sans-serif" font-size="10" font-weight="bold" fill="#111" text-anchor="end">60</text>
<text transform="translate(50.20,410.4) scale(1.08,1)" font-family="'Liberation Sans',sans-serif" font-size="10" font-weight="bold" fill="#111" text-anchor="middle">0</text>
<text transform="translate(79.60,410.4) scale(1.08,1)" font-family="'Liberation Sans',sans-serif" font-size="10" font-weight="bold" fill="#111" text-anchor="middle">1</text>
<text transform="translate(109.00,410.4) scale(1.08,1)" font-family="'Liberation Sans',sans-serif" font-size="10" font-weight="bold" fill="#111" text-anchor="middle">2</text>
<text transform="translate(138.40,410.4) scale(1.08,1)" font-family="'Liberation Sans',sans-serif" font-size="10" font-weight="bold" fill="#111" text-anchor="middle">3</text>
<text transform="translate(167.80,410.4) scale(1.08,1)" font-family="'Liberation Sans',sans-serif" font-size="10" font-weight="bold" fill="#111" text-anchor="middle">4</text>
<polyline points="50.20,389.60 69.31,389.60 79.60,388.94 109.00,278.09 138.40,389.60 167.80,389.60" fill="none" stroke="#3a3a3a" stroke-width="0.95" stroke-linejoin="round"/>
<text x="41.00" y="283.45" font-family="'Liberation Serif','Noto Serif CJK SC',serif" font-size="16.3" font-weight="bold" fill="#000" textLength="19.17" lengthAdjust="spacingAndGlyphs" >(c)</text>
<line x1="121.9" y1="278" x2="145.4" y2="278" stroke="#3a3a3a" stroke-width="0.95"/>
<text x="147.45" y="281.90" font-family="'Liberation Serif','Noto Serif CJK SC',serif" font-size="10.8" font-weight="bold" fill="#000" textLength="29.06" lengthAdjust="spacingAndGlyphs" >Line 1</text>
<text x="80.96" y="421.80" font-family="'Liberation Serif','Noto Serif CJK SC',serif" font-size="11" font-weight="bold" fill="#000" textLength="62.47" lengthAdjust="spacingAndGlyphs" >Distance (μm)</text>
<text transform="translate(13.30,388.60) rotate(-90)" x="-0.24" y="0" font-family="'Liberation Serif','Noto Serif CJK SC',serif" font-size="11.3" font-weight="bold" fill="#000" textLength="109.38" lengthAdjust="spacingAndGlyphs">Misorientation angle (°)</text>
<rect x="218.7" y="265.2" width="144.70" height="132.00" fill="none" stroke="#333" stroke-width="1"/>
<path d="M218.7 387.40h2.6M218.7 378.01h1.5M218.7 368.63h2.6M218.7 359.25h1.5M218.7 349.86h2.6M218.7 340.47h1.5M218.7 331.09h2.6M218.7 321.70h1.5M218.7 312.32h2.6M218.7 302.93h1.5M218.7 293.55h2.6M218.7 284.16h1.5M218.7 274.78h2.6M227.73 397.2v-1.5M236.76 397.2v-2.6M245.79 397.2v-1.5M254.82 397.2v-2.6M263.85 397.2v-1.5M272.88 397.2v-2.6M281.91 397.2v-1.5M290.94 397.2v-2.6M299.97 397.2v-1.5M309.00 397.2v-2.6M318.03 397.2v-1.5M327.06 397.2v-2.6M336.09 397.2v-1.5M345.12 397.2v-2.6M354.15 397.2v-1.5" stroke="#333" stroke-width="1" fill="none"/>
<text transform="translate(215.8,390.00) scale(1.05,1)" font-family="'Liberation Sans',sans-serif" font-size="10" font-weight="bold" fill="#111" text-anchor="end">0</text>
<text transform="translate(215.8,371.23) scale(1.05,1)" font-family="'Liberation Sans',sans-serif" font-size="10" font-weight="bold" fill="#111" text-anchor="end">10</text>
<text transform="translate(215.8,352.46) scale(1.05,1)" font-family="'Liberation Sans',sans-serif" font-size="10" font-weight="bold" fill="#111" text-anchor="end">20</text>
<text transform="translate(215.8,333.69) scale(1.05,1)" font-family="'Liberation Sans',sans-serif" font-size="10" font-weight="bold" fill="#111" text-anchor="end">30</text>
<text transform="translate(215.8,314.92) scale(1.05,1)" font-family="'Liberation Sans',sans-serif" font-size="10" font-weight="bold" fill="#111" text-anchor="end">40</text>
<text transform="translate(215.8,296.15) scale(1.05,1)" font-family="'Liberation Sans',sans-serif" font-size="10" font-weight="bold" fill="#111" text-anchor="end">50</text>
<text transform="translate(215.8,277.38) scale(1.05,1)" font-family="'Liberation Sans',sans-serif" font-size="10" font-weight="bold" fill="#111" text-anchor="end">60</text>
<text transform="translate(218.70,408.6) scale(1.08,1)" font-family="'Liberation Sans',sans-serif" font-size="10" font-weight="bold" fill="#111" text-anchor="middle">0</text>
<text transform="translate(236.76,408.6) scale(1.08,1)" font-family="'Liberation Sans',sans-serif" font-size="10" font-weight="bold" fill="#111" text-anchor="middle">1</text>
<text transform="translate(254.82,408.6) scale(1.08,1)" font-family="'Liberation Sans',sans-serif" font-size="10" font-weight="bold" fill="#111" text-anchor="middle">2</text>
<text transform="translate(272.88,408.6) scale(1.08,1)" font-family="'Liberation Sans',sans-serif" font-size="10" font-weight="bold" fill="#111" text-anchor="middle">3</text>
<text transform="translate(290.94,408.6) scale(1.08,1)" font-family="'Liberation Sans',sans-serif" font-size="10" font-weight="bold" fill="#111" text-anchor="middle">4</text>
<text transform="translate(309.00,408.6) scale(1.08,1)" font-family="'Liberation Sans',sans-serif" font-size="10" font-weight="bold" fill="#111" text-anchor="middle">5</text>
<text transform="translate(327.06,408.6) scale(1.08,1)" font-family="'Liberation Sans',sans-serif" font-size="10" font-weight="bold" fill="#111" text-anchor="middle">6</text>
<text transform="translate(345.12,408.6) scale(1.08,1)" font-family="'Liberation Sans',sans-serif" font-size="10" font-weight="bold" fill="#111" text-anchor="middle">7</text>
<text transform="translate(363.18,408.6) scale(1.08,1)" font-family="'Liberation Sans',sans-serif" font-size="10" font-weight="bold" fill="#111" text-anchor="middle">8</text>
<polyline points="218.70,387.40 234.95,387.40 244.89,386.84 262.59,276.28 288.23,386.84 313.33,276.28 331.94,387.78 357.22,387.78" fill="none" stroke="#3a3a3a" stroke-width="0.95" stroke-linejoin="round"/>
<text x="228.90" y="283.25" font-family="'Liberation Serif','Noto Serif CJK SC',serif" font-size="16.3" font-weight="bold" fill="#000" textLength="21.20" lengthAdjust="spacingAndGlyphs" >(d)</text>
<line x1="317.3" y1="276.6" x2="328.9" y2="276.6" stroke="#3a3a3a" stroke-width="0.95"/>
<text x="330.95" y="278.90" font-family="'Liberation Serif','Noto Serif CJK SC',serif" font-size="10.8" font-weight="bold" fill="#000" textLength="29.01" lengthAdjust="spacingAndGlyphs" >Line 2</text>
<text x="263.76" y="420.00" font-family="'Liberation Serif','Noto Serif CJK SC',serif" font-size="11" font-weight="bold" fill="#000" textLength="61.96" lengthAdjust="spacingAndGlyphs" >Distance (μm)</text>
<text transform="translate(197.90,389.70) rotate(-90)" x="-0.24" y="0" font-family="'Liberation Serif','Noto Serif CJK SC',serif" font-size="11.3" font-weight="bold" fill="#000" textLength="108.68" lengthAdjust="spacingAndGlyphs">Misorientation angle (°)</text>
<rect x="401.8" y="266.2" width="135.20" height="132.60" fill="none" stroke="#333" stroke-width="1"/>
<path d="M401.8 388.80h2.6M401.8 379.40h1.5M401.8 370.00h2.6M401.8 360.60h1.5M401.8 351.20h2.6M401.8 341.80h1.5M401.8 332.40h2.6M401.8 323.00h1.5M401.8 313.60h2.6M401.8 304.20h1.5M401.8 294.80h2.6M401.8 285.40h1.5M401.8 276.00h2.6M413.00 398.8v-2.6M424.20 398.8v-1.5M435.40 398.8v-2.6M446.60 398.8v-1.5M457.80 398.8v-2.6M469.00 398.8v-1.5M480.20 398.8v-2.6M491.40 398.8v-1.5M502.60 398.8v-2.6M513.80 398.8v-1.5M525.00 398.8v-2.6M536.20 398.8v-1.5" stroke="#333" stroke-width="1" fill="none"/>
<text transform="translate(398.3,391.40) scale(1.05,1)" font-family="'Liberation Sans',sans-serif" font-size="10" font-weight="bold" fill="#111" text-anchor="end">0</text>
<text transform="translate(398.3,372.60) scale(1.05,1)" font-family="'Liberation Sans',sans-serif" font-size="10" font-weight="bold" fill="#111" text-anchor="end">10</text>
<text transform="translate(398.3,353.80) scale(1.05,1)" font-family="'Liberation Sans',sans-serif" font-size="10" font-weight="bold" fill="#111" text-anchor="end">20</text>
<text transform="translate(398.3,335.00) scale(1.05,1)" font-family="'Liberation Sans',sans-serif" font-size="10" font-weight="bold" fill="#111" text-anchor="end">30</text>
<text transform="translate(398.3,316.20) scale(1.05,1)" font-family="'Liberation Sans',sans-serif" font-size="10" font-weight="bold" fill="#111" text-anchor="end">40</text>
<text transform="translate(398.3,297.40) scale(1.05,1)" font-family="'Liberation Sans',sans-serif" font-size="10" font-weight="bold" fill="#111" text-anchor="end">50</text>
<text transform="translate(398.3,278.60) scale(1.05,1)" font-family="'Liberation Sans',sans-serif" font-size="10" font-weight="bold" fill="#111" text-anchor="end">60</text>
<text transform="translate(413.00,410.0) scale(1.08,1)" font-family="'Liberation Sans',sans-serif" font-size="10" font-weight="bold" fill="#111" text-anchor="middle">0</text>
<text transform="translate(435.40,410.0) scale(1.08,1)" font-family="'Liberation Sans',sans-serif" font-size="10" font-weight="bold" fill="#111" text-anchor="middle">1</text>
<text transform="translate(457.80,410.0) scale(1.08,1)" font-family="'Liberation Sans',sans-serif" font-size="10" font-weight="bold" fill="#111" text-anchor="middle">2</text>
<text transform="translate(480.20,410.0) scale(1.08,1)" font-family="'Liberation Sans',sans-serif" font-size="10" font-weight="bold" fill="#111" text-anchor="middle">3</text>
<text transform="translate(502.60,410.0) scale(1.08,1)" font-family="'Liberation Sans',sans-serif" font-size="10" font-weight="bold" fill="#111" text-anchor="middle">4</text>
<text transform="translate(525.00,410.0) scale(1.08,1)" font-family="'Liberation Sans',sans-serif" font-size="10" font-weight="bold" fill="#111" text-anchor="middle">5</text>
<polyline points="413.00,388.80 444.58,276.75 467.21,387.48 498.79,277.13 521.42,388.80" fill="none" stroke="#3a3a3a" stroke-width="0.95" stroke-linejoin="round"/>
<text x="409.51" y="283.55" font-family="'Liberation Serif','Noto Serif CJK SC',serif" font-size="16.3" font-weight="bold" fill="#000" textLength="19.06" lengthAdjust="spacingAndGlyphs" >(e)</text>
<line x1="476.6" y1="273.9" x2="499.7" y2="273.9" stroke="#3a3a3a" stroke-width="0.95"/>
<text x="503.35" y="277.30" font-family="'Liberation Serif','Noto Serif CJK SC',serif" font-size="10.8" font-weight="bold" fill="#000" textLength="29.01" lengthAdjust="spacingAndGlyphs" >Line 3</text>
<text x="438.96" y="420.90" font-family="'Liberation Serif','Noto Serif CJK SC',serif" font-size="11" font-weight="bold" fill="#000" textLength="62.98" lengthAdjust="spacingAndGlyphs" >Distance (μm)</text>
<text transform="translate(379.90,388.60) rotate(-90)" x="-0.24" y="0" font-family="'Liberation Serif','Noto Serif CJK SC',serif" font-size="11.3" font-weight="bold" fill="#000" textLength="110.09" lengthAdjust="spacingAndGlyphs">Misorientation angle (°)</text>
</svg></body></html>
